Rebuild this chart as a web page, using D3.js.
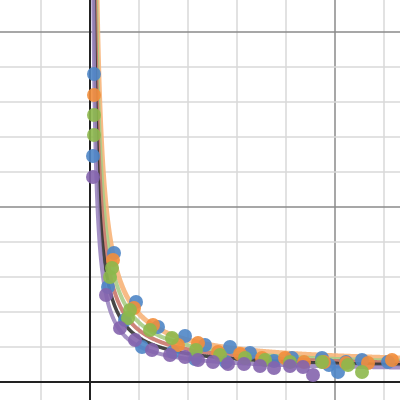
<!DOCTYPE html><html><head><script src="https://cdn.jsdelivr.net/npm/d3@7"></script>
<style>body{margin:0;background:#fff}</style></head><body><svg id="c" width="400" height="400"></svg><script>
const bluePx=[[94,74],[93,156],[114,253],[108,287],[125,320],[136,302],[142,347],[158,327],[173,352],[185,336],[195,359],[205,345],[226,362],[230,347],[250,353],[274,361],[292,358],[322,358],[329,365],[338,372],[346,362],[362,360],[388,362]];
const orangePx=[[94,95],[113,260],[134,308],[153,325],[178,345],[198,343],[218,352],[240,354],[262,358],[285,358],[304,362],[324,362],[346,363],[368,363],[392,360]];
const greenPx=[[94,115],[94,135],[112,268],[110,277],[130,310],[128,318],[150,330],[172,338],[196,350],[220,355],[245,358],[265,360],[290,362],[322,362],[348,365],[362,372]];
const purplePx=[[93,177],[106,295],[120,328],[135,340],[152,350],[170,355],[185,357],[198,360],[213,362],[228,364],[244,364],[260,366],[274,368],[290,366],[303,367],[313,375]];
// convert read pixel positions to data units (1 unit = 49px in x, 35px in y)
const toData=a=>a.map(([px,py])=>[(px-90)/49,(382-py)/35]);
const series=[
 {name:"blue",color:"#4f86c6",pts:toData(bluePx)},
 {name:"orange",color:"#f28e3c",pts:toData(orangePx)},
 {name:"green",color:"#8db84d",pts:toData(greenPx)},
 {name:"purple",color:"#8464ad",pts:toData(purplePx)}];
const curves=[
 {color:"#f7b479",a:1.5,c:0.45,w:5},
 {color:"#a9cc86",a:1.3,c:0.4,w:4},
 {color:"#c9776c",a:1.1,c:0.38,w:4},
 {color:"#333333",a:0.92,c:0.35,w:3.5},
 {color:"#9b86bf",a:0.72,c:0.3,w:4}];
const svg=d3.select("#c");
const x=d3.scaleLinear().domain([-90/49,310/49]).range([0,400]);
const y=d3.scaleLinear().domain([-18/35,382/35]).range([400,0]);
const xt=d3.range(-1,7),yt=d3.range(0,11);
svg.selectAll(".gx").data(xt).join("line").attr("x1",d=>x(d)).attr("x2",d=>x(d)).attr("y1",0).attr("y2",400)
 .attr("stroke",d=>d%5===0?"#8a8a8a":"#d8d8d8").attr("stroke-width",1.5);
svg.selectAll(".gy").data(yt).join("line").attr("y1",d=>y(d)).attr("y2",d=>y(d)).attr("x1",0).attr("x2",400)
 .attr("stroke",d=>d%5===0?"#8a8a8a":"#d8d8d8").attr("stroke-width",1.5);
svg.append("line").attr("x1",x(0)).attr("x2",x(0)).attr("y1",0).attr("y2",400).attr("stroke","#222").attr("stroke-width",2);
svg.append("line").attr("y1",y(0)).attr("y2",y(0)).attr("x1",0).attr("x2",400).attr("stroke","#222").attr("stroke-width",2);
const xs=d3.range(0.03,6.4,0.01);
curves.forEach(cv=>{
 svg.append("path").attr("d",d3.line().x(d=>x(d)).y(d=>y(Math.min(12,cv.a/d+cv.c)))(xs))
  .attr("fill","none").attr("stroke",cv.color).attr("stroke-width",cv.w).attr("opacity",0.9);
});
series.forEach(s=>{
 svg.selectAll(null).data(s.pts).join("circle").attr("cx",d=>x(d[0])).attr("cy",d=>y(d[1])).attr("r",7)
  .attr("fill",s.color).attr("opacity",0.9);
});
</script></body></html>
